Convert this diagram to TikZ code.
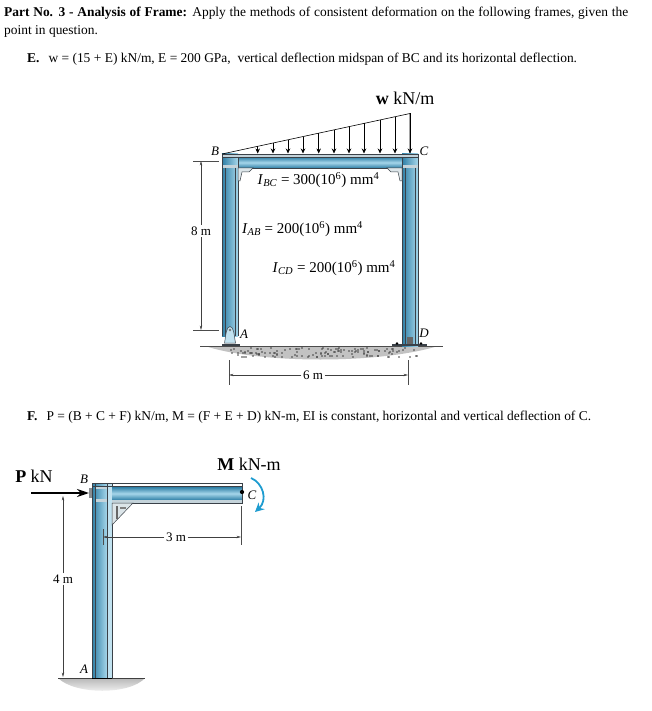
\documentclass[tikz,border=0pt]{standalone}
\usepackage{fontspec}
\setmainfont{Liberation Serif}
\usetikzlibrary{arrows.meta}

\definecolor{steeldark}{HTML}{2F7FA6}
\definecolor{steellight}{HTML}{A6D6EA}
\definecolor{flangegrey}{HTML}{C4D3DA}
\definecolor{edgegrey}{HTML}{3A4148}
\definecolor{momentblue}{HTML}{1E9CD0}

\tikzset{
  sheettext/.style={inner sep=0pt, anchor=west, font=\fontsize{13.45}{18}\selectfont},
  framelabel/.style={inner sep=1pt, font=\fontsize{15}{17}\selectfont},
  pointlabel/.style={inner sep=0pt, font=\fontsize{13}{15}\selectfont\itshape},
  loadlabel/.style={inner sep=0pt, font=\fontsize{18}{20}\selectfont},
  dimlabel/.style={inner sep=1.5pt, font=\fontsize{13}{15}\selectfont},
  dimline/.style={line width=0.45pt, draw=black!75, -{Stealth[length=4.5pt,width=2.4pt]}},
  dimtick/.style={line width=0.45pt, draw=black!70},
  colfill/.style={left color=steeldark, right color=steellight, draw=none},
  beamfill/.style={top color=steeldark, bottom color=steeldark, middle color=steellight, draw=none},
  flange/.style={fill=flangegrey, draw=edgegrey, line width=0.5pt},
  gusset/.style={fill=flangegrey!60, draw=edgegrey, line width=0.5pt},
}

\newcommand{\sectprop}[2]{\textit{I}\textsubscript{\textit{#1}} = #2(10\textsuperscript{6}) mm\textsuperscript{4}}

\begin{document}
\begin{tikzpicture}[x=1pt, y=-1pt]
    \useasboundingbox (0,0) rectangle (652,711);

    % 1) Text of the question
    \node[sheettext, text width=624pt, align=justify] (question) at (4,22.7)
      {\textbf{Part No. 3 - Analysis of Frame:} Apply the methods of consistent deformation on the following frames, given the point in question.};
    \node[sheettext] (partE) at (27,59) {\textbf{E.}\hspace{9pt}w = (15 + E) kN/m, E = 200 GPa,\ \ vertical deflection midspan of BC and its horizontal deflection.};
    \node[sheettext] (partF) at (27,417) {\textbf{F.}\hspace{9pt}P = (B + C + F) kN/m, M = (F + E + D) kN-m, EI is constant, horizontal and vertical deflection of C.};

    % 2) Ground under the upper frame
    \fill[black!24] (205,346) .. controls (260,364) and (380,364) .. (438,346) -- cycle;
    \pgfmathsetseed{31}
    \foreach \i in {1,...,130} {
      \pgfmathsetmacro{\px}{228+random(0,190)}
      \pgfmathsetmacro{\py}{348+random(0,9)}
      \fill[black!75] (\px,\py) circle (0.9pt);
    }
    \draw[line width=0.7pt, black!70] (200,346) -- (443,346);

    % 3) Upper frame, columns then beam
    \shade[colfill] (222,154) rectangle (238,336);
    \shade[colfill] (402,154) rectangle (418,346);
    \foreach \x in {222,402} {
      \fill[flangegrey] (\x,165) rectangle (\x+16,168);
    }
    \draw[edgegrey, line width=0.5pt] (222,154) -- (222,336) (225,168) -- (225,336) (235,168) -- (235,336) (238,168) -- (238,336);
    \draw[edgegrey, line width=0.5pt] (402,154) -- (402,346) (405,168) -- (405,346) (415,168) -- (415,346) (418,154) -- (418,346);
    \shade[beamfill] (238,157) rectangle (402,168);
    \draw[flange] (222,154) rectangle (418,157);
    \draw[edgegrey, line width=0.5pt] (238,168) -- (402,168) (238,157) -- (238,168) (402,157) -- (402,168);

    % 4) Corner gussets of the upper frame
    \draw[gusset] (238,168) -- (253,168) -- (249,172) -- (242,172) -- (240,181) -- (238,181) -- cycle;
    \draw[gusset] (402,168) -- (387,168) -- (391,172) -- (398,172) -- (400,181) -- (402,181) -- cycle;

    % 5) Supports at A and D
    \draw[fill=steellight!70, draw=edgegrey, line width=0.5pt] (230,326.5) .. controls (226,327) and (226,335) .. (224.5,343) -- (235.5,343) .. controls (234,335) and (234,327) .. (230,326.5) -- cycle;
    \fill[black!55] (230,330) circle (1.3pt);
    \fill[edgegrey] (222,343.5) rectangle (240,346);
    \fill[edgegrey] (392,344) rectangle (427,346);
    \foreach \x in {397,421} {
      \fill[black] (\x,343.5) circle (1.4pt);
    }
    \fill[black!60] (407,337) rectangle (413,344);

    % 6) Triangular load
    \coordinate (loadB) at (222,154);
    \coordinate (loadPeak) at (410,113.5);
    \coordinate (loadC) at (410,153);
    \draw[line width=0.6pt] (loadB) -- (loadPeak) -- (loadC);
    \foreach \x in {257.7,273,288,303,318.7,334,349,364,380,395,410} {
      \pgfmathsetmacro{\ytop}{154-(\x-222)*40.5/188}
      \draw[line width=0.6pt, -{Stealth[length=5pt,width=4.5pt]}] (\x,\ytop) -- (\x,153.5);
    }

    % 7) Labels of the upper frame
    \node[loadlabel] (wload) at (405,98) {\textbf{w} kN/m};
    \node[pointlabel] (pointB) at (215,151) {B};
    \node[pointlabel] (pointC) at (424,151) {C};
    \node[pointlabel] (pointA) at (244,334) {A};
    \node[pointlabel] (pointD) at (424,333) {D};
    \node[framelabel] (propBC) at (318.5,180) {\sectprop{BC}{300}};
    \node[framelabel] (propAB) at (302.5,229) {\sectprop{AB}{200}};
    \node[framelabel] (propCD) at (334,268) {\sectprop{CD}{200}};

    % 8) Dimensions of the upper frame
    \node[dimlabel] (eightm) at (201,231) {8 m};
    \coordinate (eightTop) at (201,161);
    \coordinate (eightBot) at (201,330);
    \draw[dimtick] (193,161) -- (219,161);
    \draw[dimtick] (193,330) -- (219,330);
    \draw[dimline] (eightm) -- (eightTop);
    \draw[dimline] (eightm) -- (eightBot);
    \node[dimlabel] (sixm) at (313,375) {6 m};
    \coordinate (sixLeft) at (229,375);
    \coordinate (sixRight) at (408,375);
    \draw[dimtick] (229,360) -- (229,385);
    \draw[dimtick] (408,360) -- (408,385);
    \draw[dimline] (sixm) -- (sixLeft);
    \draw[dimline] (sixm) -- (sixRight);

    % 9) Lower frame
    \shade[top color=black!28, bottom color=white, draw=none] (58,678) .. controls (75,695) and (130,695) .. (145,678) -- cycle;
    \shade[colfill] (92,483) rectangle (107,678);
    \foreach \y in {486,499} {
      \fill[flangegrey] (95,\y) rectangle (107,\y+3);
    }
    \fill[steellight!70] (107,483) rectangle (112,678);
    \draw[edgegrey, line width=0.5pt] (92,483) -- (92,678) (95,483) -- (95,678) (107,483) -- (107,678) (112,483) -- (112,678);
    \shade[beamfill] (112,487) rectangle (242,500);
    \fill[flangegrey] (112,500) rectangle (242,503);
    \draw[edgegrey, line width=0.5pt] (92,483) rectangle (242,486.5);
    \draw[edgegrey, line width=0.5pt] (112,503) -- (242,503) -- (242,483);
    \draw[gusset] (112,503) -- (133,503) -- (112,525) -- cycle;
    \fill[black!60] (116,506) rectangle (117.5,519);
    \fill[black!50] (120,507) rectangle (126,509);
    \fill[edgegrey!60] (89,488) rectangle (92,498);
    \draw[line width=0.7pt, black!75] (58,678) -- (145,678);
    \draw[line width=1pt, black] (92,678) -- (112,678);

    % 10) Loads on the lower frame
    \node[loadlabel] (pload) at (34,476) {\textbf{P} kN};
    \coordinate (pTail) at (31,493);
    \coordinate (pHead) at (89,493);
    \draw[line width=2pt, -{Stealth[length=12pt,width=8pt]}] (pTail) -- (pHead);
    \node[loadlabel] (mload) at (249,464) {\textbf{M} kN-m};
    \coordinate (mStart) at (251,478);
    \coordinate (mEnd) at (255,512);
    \draw[momentblue, line width=1.8pt, -{Stealth[length=9pt,width=9pt]}] (mStart) .. controls (263,483) and (268,500) .. (mEnd);
    \node[circle, fill=black, inner sep=1.5pt] (dotC) at (242,492) {};
    \node[pointlabel] (labelB) at (84,479) {B};
    \node[pointlabel] (labelC) at (252,495) {C};
    \node[pointlabel] (labelA) at (84,669) {A};

    % 11) Dimensions of the lower frame
    \node[dimlabel] (fourm) at (63,579) {4 m};
    \coordinate (fourTop) at (63,496);
    \coordinate (fourBot) at (63,677);
    \draw[dimline] (fourm) -- (fourTop);
    \draw[dimline] (fourm) -- (fourBot);
    \node[dimlabel] (threem) at (176,537) {3 m};
    \coordinate (threeLeft) at (103,537);
    \coordinate (threeRight) at (241,537);
    \draw[dimtick] (103,529) -- (103,545);
    \draw[dimtick] (241,506) -- (241,545);
    \draw[dimline] (threem) -- (threeLeft);
    \draw[dimline] (threem) -- (threeRight);
\end{tikzpicture}
\end{document}
